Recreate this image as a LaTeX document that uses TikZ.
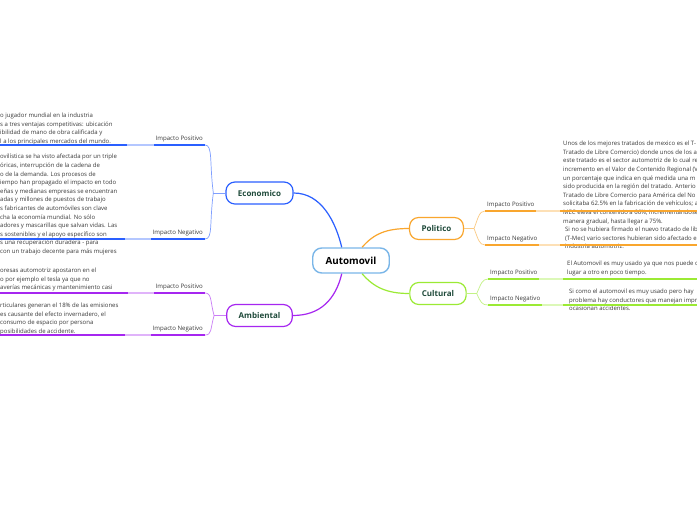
\documentclass[tikz,border=0pt]{standalone}
\usepackage{fontspec}
\setmainfont{Open Sans}
\definecolor{ecoblue}{HTML}{2A5FFF}
\definecolor{ambpurple}{HTML}{A626F0}
\definecolor{polorange}{HTML}{F9A62E}
\definecolor{culgreen}{HTML}{9BEA34}
\definecolor{rootblue}{HTML}{7AB6E8}
\definecolor{topictext}{HTML}{1F4A3A}
\definecolor{bodytext}{HTML}{3A3A3A}

\begin{document}
\begin{tikzpicture}[x=1pt,y=-1pt,
  root/.style={draw=rootblue,line width=1.4pt,rounded corners=9pt,fill=white,
    minimum height=25pt,inner xsep=13pt,font=\fontsize{9.8}{11}\selectfont\bfseries},
  topic/.style={draw=#1,line width=1.2pt,rounded corners=9pt,fill=white,
    minimum height=22pt,inner xsep=12pt,text=topictext,font=\fontsize{8}{10}\selectfont\bfseries},
  lbl/.style={inner xsep=2pt,inner ysep=2.5pt,text=bodytext,font=\fontsize{6.1}{7}\selectfont},
  body/.style={inner sep=0pt,align=left,text=bodytext,font=\fontsize{6}{8.6}\selectfont},
  link/.style={draw=#1,line width=1.2pt},
  fork/.style={draw=#1!60,line width=0.7pt},
  uline/.style={draw=#1,line width=1.5pt},
  gap/.style={draw=#1!35,line width=1.5pt}]
  \fill[white] (0,0) rectangle (697,520);
  \useasboundingbox (0,0) rectangle (697,520);
  \clip (0,0) rectangle (697,520);
  \coordinate (edge) at (700,0);

  % Main topics
  \node[root] (auto) at (351,260.5) {Automovil};
  \node[topic=ecoblue] (eco) at (259.5,193) {Economico};
  \node[topic=ambpurple] (amb) at (259.5,315.5) {Ambiental};
  \node[topic=polorange] (pol) at (436.5,228.5) {Politico};
  \node[topic=culgreen] (cul) at (438,293.5) {Cultural};

  \draw[link=ecoblue] (eco.east) .. controls +(28,0) and +(-6,-25) .. (auto.125);
  \draw[link=ambpurple] (amb.east) .. controls +(28,0) and +(-6,25) .. (auto.235);
  \draw[link=polorange] (auto.50) .. controls +(12,-14) and +(-22,0) .. (pol.west);
  \draw[link=culgreen] (auto.310) .. controls +(12,14) and +(-22,0) .. (cul.west);

  % Subtopics
  \node[lbl,anchor=south east] (ecoPos) at (205,145) {Impacto Positivo};
  \node[lbl,anchor=south east] (ecoNeg) at (205,239) {Impacto Negativo};
  \node[lbl,anchor=south east] (ambPos) at (205,293) {Impacto Positivo};
  \node[lbl,anchor=south east] (ambNeg) at (205,335) {Impacto Negativo};
  \node[lbl,anchor=south west] (polPos) at (485,211) {Impacto Positivo};
  \node[lbl,anchor=south west] (polNeg) at (485,245) {Impacto Negativo};
  \node[lbl,anchor=south west] (culPos) at (488,279) {Impacto Positivo};
  \node[lbl,anchor=south west] (culNeg) at (488,305) {Impacto Negativo};

  \draw[fork=ecoblue] (eco.west) -- ++(-12,0) coordinate (ecoFork);
  \draw[fork=ecoblue] (ecoFork) .. controls +(-4,-30) and +(8,0) .. (ecoPos.south east);
  \draw[fork=ecoblue] (ecoFork) .. controls +(-4,30) and +(8,0) .. (ecoNeg.south east);
  \draw[fork=ambpurple] (amb.west) -- ++(-12,0) coordinate (ambFork);
  \draw[fork=ambpurple] (ambFork) .. controls +(-4,-14) and +(7,0) .. (ambPos.south east);
  \draw[fork=ambpurple] (ambFork) .. controls +(-4,14) and +(7,0) .. (ambNeg.south east);
  \draw[fork=polorange] (pol.east) -- ++(10,0) coordinate (polFork);
  \draw[fork=polorange] (polFork) .. controls +(4,-10) and +(-6,0) .. (polPos.south west);
  \draw[fork=polorange] (polFork) .. controls +(4,10) and +(-6,0) .. (polNeg.south west);
  \draw[fork=culgreen] (cul.east) -- ++(10,0) coordinate (culFork);
  \draw[fork=culgreen] (culFork) .. controls +(4,-9) and +(-6,0) .. (culPos.south west);
  \draw[fork=culgreen] (culFork) .. controls +(4,9) and +(-6,0) .. (culNeg.south west);

  % Notes
  \node[body,anchor=north west] (ecoPosTxt) at (0,113) {o jugador mundial en la industria\\
    s a tres ventajas competitivas: ubicación\\
    ibilidad de mano de obra calificada y\\
    l a los principales mercados del mundo.};
  \node[body,anchor=north west] (ecoNegTxt) at (0,154) {ovilística se ha visto afectada por un triple\\
    óricas, interrupción de la cadena de\\
    o de la demanda. Los procesos de\\
    iempo han propagado el impacto en todo\\
    eñas y medianas empresas se encuentran\\
    adas y millones de puestos de trabajo\\
    s fabricantes de automóviles son clave\\
    cha la economía mundial. No sólo\\
    adores y mascarillas que salvan vidas. Las\\
    s sostenibles y el apoyo específico son\\
    s una recuperación duradera - para\\
    con un trabajo decente para más mujeres};
  \node[body,anchor=north west] (ambPosTxt) at (0,268) {oresas automotriz apostaron en el\\
    o por ejemplo el tesla ya que no\\
    averías mecánicas y mantenimiento casi};
  \node[body,anchor=north west] (ambNegTxt) at (0,303) {rticulares generan el 18\% de las emisiones\\
    es causante del efecto invernadero, el\\
    consumo de espacio por persona\\
    posibilidades de accidente.};
  \node[body,anchor=north west] (polPosTxt) at (563,141) {Unos de los mejores tratados de mexico es el T-\\
    Tratado de Libre Comercio) donde unos de los a\\
    este tratado es el sector automotriz de lo cual re\\
    incremento en el Valor de Contenido Regional (V\\
    un porcentaje que indica en qué medida una m\\
    sido producida en la región del tratado. Anterio\\
    Tratado de Libre Comercio para América del No\\
    solicitaba 62.5\% en la fabricación de vehículos; a\\
    MEC eleva el contenido a 66\%, incrementándose\\
    manera gradual, hasta llegar a 75\%.};
  \node[body,anchor=north west] (polNegTxt) at (565,227) {Si no se hubiera firmado el nuevo tratado de lib\\
    (T-Mec) vario sectores hubieran sido afectado e\\
    industria automotriz.};
  \node[body,anchor=north west] (culPosTxt) at (567,261) {El Automovil es muy usado ya que nos puede c\\
    lugar a otro en poco tiempo.};
  \node[body,anchor=north west] (culNegTxt) at (569,289) {Si como el automovil es muy usado pero hay\\
    problema hay conductores que manejan impr\\
    ocasionan accidentes.};

  % Underlines
  \coordinate (ecoPosEnd) at (127,145);
  \coordinate (ecoNegEnd) at (125,239);
  \coordinate (ambPosEnd) at (128,293);
  \coordinate (ambNegEnd) at (125,335);
  \coordinate (polPosEnd) at (560,211);
  \coordinate (polNegEnd) at (560,245);
  \coordinate (culPosEnd) at (563,279);
  \coordinate (culNegEnd) at (563,305);
  \foreach \n/\c in {ecoPos/ecoblue,ecoNeg/ecoblue,ambPos/ambpurple,ambNeg/ambpurple}{
    \draw[uline=\c] (\n.south west) -- (\n.south east);
    \draw[gap=\c] (\n.south west) -- (\n End);
    \draw[uline=\c] (\n End) -- (\n End -| \n Txt.west);
  }
  \foreach \n/\c in {polPos/polorange,polNeg/polorange,culPos/culgreen,culNeg/culgreen}{
    \draw[uline=\c] (\n.south west) -- (\n.south east);
    \draw[gap=\c] (\n.south east) -- (\n End);
    \draw[uline=\c] (\n End) -- (\n End -| edge);
  }
\end{tikzpicture}
\end{document}
